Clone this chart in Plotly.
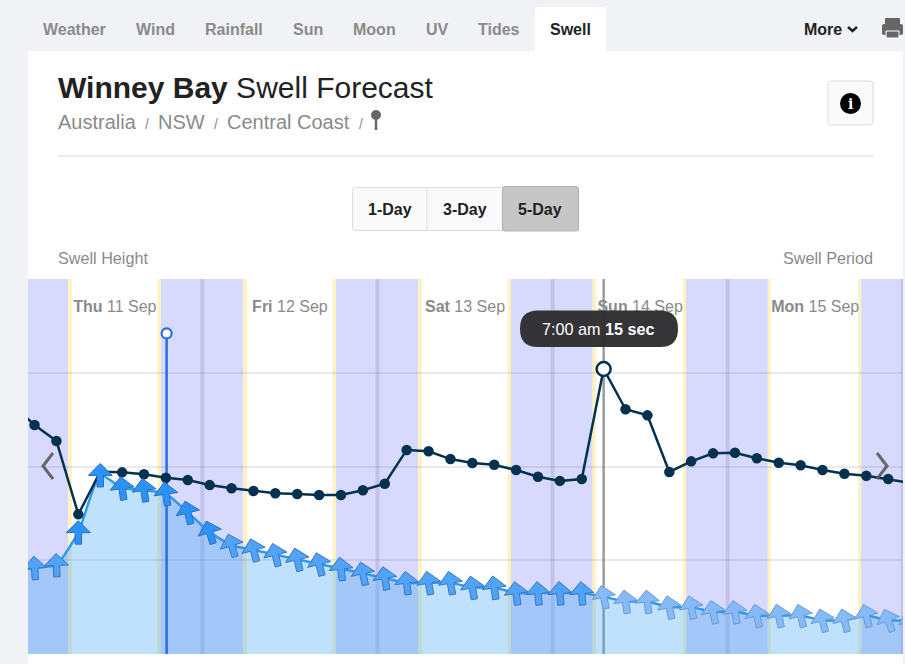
import math

import plotly.graph_objects as go

W, H = 905, 664

# hours counted from Thu 11 Sep 00:00
hours = list(range(-2, 122, 3))
swell_height = [
    0.87, 0.92, 0.95, 1.30, 1.91, 1.77, 1.75, 1.71, 1.51, 1.30, 1.16, 1.11, 1.06, 1.01,
    0.96, 0.91, 0.86, 0.81, 0.76, 0.76, 0.76, 0.71, 0.71, 0.65, 0.65, 0.65, 0.65, 0.61,
    0.56, 0.56, 0.50, 0.50, 0.45, 0.45, 0.41, 0.41, 0.41, 0.36, 0.36, 0.41, 0.36, 0.36,
]
swell_period = [
    13.1, 12.05, 11.21, 7.35, 9.59, 9.56, 9.46, 9.28, 9.16, 8.89, 8.72, 8.58, 8.46, 8.42,
    8.37, 8.37, 8.62, 8.96, 10.74, 10.67, 10.26, 10.05, 9.96, 9.68, 9.33, 9.11, 9.21, 15.0,
    12.88, 12.56, 9.58, 10.14, 10.56, 10.59, 10.3, 10.07, 9.93, 9.68, 9.49, 9.38, 9.21, 9.0,
]
# arrow tilt in degrees, negative leans left
swell_dir = [
    -5, -4, -2, 0, 0, -8, -8, -8, -14, -17, -17, -15, -14, -13,
    -14, -7, -12, -10, -7, -10, -10, -10, -8, -8, -5, -5, -5, -12,
    -8, -6, -12, -12, -12, -10, -12, -12, -14, -14, -14, -14, -20, -20,
]

first_light = [5.6, 29.6, 53.6, 77.5, 101.5]
sunrise = [6.1, 30.1, 54.05, 77.95, 101.9]
sunset = [17.85, 41.85, 65.85, 89.9, 113.9]
last_light = [18.3, 42.3, 66.3, 90.3, 114.3]
midnights = [24, 48, 72, 96, 120]

day_names = ["Thu", "Fri", "Sat", "Sun", "Mon"]
day_dates = ["11 Sep", "12 Sep", "13 Sep", "14 Sep", "15 Sep"]
day_noons = [12, 36, 60, 84, 108]

now_hour = 19.1
cursor_hour = 79
nav_labels = ["Weather", "Wind", "Rainfall", "Sun", "Moon", "UV", "Tides"]
nav_lefts = [43, 136, 205, 293, 353, 426, 478]

PAGE = "#f0f2f6"
NIGHT = "#d7d9fd"
TWILIGHT = "#fff2bf"
GREY_TEXT = "#8a8a8a"
DARK_TEXT = "#222222"
NAVY = "#03314f"
FONT = "Liberation Sans"

fig = go.Figure()


def rounded(x0, y0, x1, y1, r):
    """Rounded box path in page pixels (y down), anchored top left of the figure."""
    y0, y1 = -y0, -y1
    return (
        f"M{x0 + r},{y0} L{x1 - r},{y0} Q{x1},{y0} {x1},{y0 - r} "
        f"L{x1},{y1 + r} Q{x1},{y1} {x1 - r},{y1} L{x0 + r},{y1} "
        f"Q{x0},{y1} {x0},{y1 + r} L{x0},{y0 - r} Q{x0},{y0} {x0 + r},{y0} Z"
    )


def page_shape(path, fill=None, line=None, width=0, layer="above"):
    fig.add_shape(
        type="path", path=path, xref="paper", yref="paper", xsizemode="pixel",
        ysizemode="pixel", xanchor=0, yanchor=1, layer=layer,
        fillcolor=fill or "rgba(0,0,0,0)",
        line={"color": line or "rgba(0,0,0,0)", "width": width},
    )


def polyline(points, close=False):
    txt = "M" + " L".join(f"{x},{-y}" for x, y in points)
    return txt + (" Z" if close else "")


def text(x, y, s, size=16, color=DARK_TEXT, anchor="left", family=FONT):
    fig.add_annotation(
        x=x / W, y=1 - y / H, xref="paper", yref="paper", text=s, showarrow=False,
        xanchor=anchor, yanchor="middle", borderpad=0, borderwidth=0,
        font={"size": size, "color": color, "family": family},
    )


def band(x0, x1, color):
    fig.add_shape(
        type="rect", x0=x0, x1=x1, y0=0, y1=1, xref="x", yref="y domain",
        fillcolor=color, line_width=0, layer="below",
    )


def arrow_path(angle):
    a = math.radians(angle)
    outline = [(0, 11.5), (12, -0.5), (3.2, -0.5), (3.2, -12), (-3.2, -12), (-3.2, -0.5), (-12, -0.5)]
    pts = [
        (x * math.cos(a) + y * math.sin(a), -x * math.sin(a) + y * math.cos(a))
        for x, y in outline
    ]
    return "M" + " L".join(f"{x:.2f},{y:.2f}" for x, y in pts) + " Z"


def arrow_colors(hour, value):
    if hour >= cursor_hour:
        return "#84bbf6", "#6d9ad6"
    if value >= 1.25:
        return "#2b93f8", "#2a6fc0"
    return "#50a3f6", "#3b78c0"


# page furniture
page_shape(polyline([(28, 51), (903, 51), (903, 664), (28, 664)], True), fill="#ffffff", layer="below")
page_shape(
    "M535,-51 L535,-11 Q535,-7 539,-7 L602,-7 Q606,-7 606,-11 L606,-51 Z",
    fill="#ffffff", layer="below",
)
for label, left in zip(nav_labels, nav_lefts):
    text(left, 29.7, f"<b>{label}</b>", 16, GREY_TEXT)
text(550, 29.7, "<b>Swell</b>", 16, DARK_TEXT)
text(804, 29.7, "<b>More</b>", 16, DARK_TEXT)
page_shape(polyline([(848, 27), (852.5, 31), (857, 27)]), line=DARK_TEXT, width=2.5)
page_shape(rounded(885, 18, 900, 26, 1), fill="#666666")
page_shape(rounded(882, 24, 903, 35, 2), fill="#666666")
page_shape(polyline([(886, 31), (899, 31), (899, 38), (886, 38)], True), fill="#666666", line="#ffffff", width=1)

text(58, 87.8, "<b>Winney Bay</b> Swell Forecast", 30, DARK_TEXT)
text(58, 121.8, "Australia", 20, GREY_TEXT)
text(146.5, 124, "/", 14, GREY_TEXT, "center")
text(158, 121.8, "NSW", 20, GREY_TEXT)
text(216, 124, "/", 14, GREY_TEXT, "center")
text(227, 121.8, "Central Coast", 20, GREY_TEXT)
text(361, 124, "/", 14, GREY_TEXT, "center")
page_shape(polyline([(376, 116), (376, 130)]), line="#666666", width=2.5)
fig.add_shape(
    type="circle", xref="paper", yref="paper", xsizemode="pixel", ysizemode="pixel",
    xanchor=0, yanchor=1, x0=371, x1=381, y0=-120, y1=-110, fillcolor="#666666", line_width=0,
)
page_shape(polyline([(58, 156), (873, 156)]), line="#e4e4e4", width=1.3)

page_shape(rounded(828, 81, 873, 125, 3), fill="#fafafa", line="#dddddd", width=1)
fig.add_shape(
    type="circle", xref="paper", yref="paper", xsizemode="pixel", ysizemode="pixel",
    xanchor=0, yanchor=1, x0=840, x1=861, y0=-114, y1=-93, fillcolor="#000000", line_width=0,
)
text(850.5, 103.7, "<b>i</b>", 14, "#ffffff", "center", "DejaVu Serif")

page_shape(rounded(352.5, 187.5, 430, 230.5, 3), fill="#fafafa", line="#dddddd", width=1)
page_shape(polyline([(427, 187.5), (503, 187.5), (503, 230.5), (427, 230.5)], True), fill="#fafafa", line="#dddddd", width=1)
page_shape(rounded(502.5, 186.5, 578.5, 231, 3), fill="#c6c6c6", line="#b4b4b4", width=1.2)
text(389.5, 209.7, "<b>1-Day</b>", 16, DARK_TEXT, "center")
text(465, 209.7, "<b>3-Day</b>", 16, DARK_TEXT, "center")
text(540, 209.7, "<b>5-Day</b>", 16, DARK_TEXT, "center")
text(58, 257.8, "Swell Height", 16.2, GREY_TEXT)
text(873, 257.8, "Swell Period", 16.2, GREY_TEXT, "right")

# day and night bands
band(0, first_light[0], NIGHT)
for i in range(len(sunrise)):
    band(first_light[i], sunrise[i], TWILIGHT)
    band(sunset[i], last_light[i], TWILIGHT)
    end = first_light[i + 1] if i + 1 < len(first_light) else hours[-1]
    band(last_light[i], end, NIGHT)
for m in midnights:
    fig.add_shape(
        type="line", x0=m, x1=m, y0=0, y1=1, xref="x", yref="y domain", layer="below",
        line={"color": "rgba(110,110,150,0.2)", "width": 4},
    )

# selected time cursor
fig.add_shape(
    type="line", x0=cursor_hour, x1=cursor_hour, y0=0, y1=1, xref="x", yref="y domain",
    layer="below", line={"color": "rgba(90,90,90,0.6)", "width": 2.5},
)

# swell height area
fig.add_trace(
    go.Scatter(
        x=hours, y=swell_height, mode="lines", fill="tozeroy",
        fillcolor="rgba(61,164,243,0.33)",
        line={"color": "#2e9bea", "width": 2.5, "shape": "spline", "smoothing": 0.5},
        hoverinfo="skip",
    )
)

# day labels sit under the tooltip, so they are a trace and not an annotation
fig.add_trace(
    go.Scatter(
        x=day_noons, y=[3.69] * len(day_noons), mode="text",
        text=[f"<b>{n}</b> {d}" for n, d in zip(day_names, day_dates)],
        textfont={"size": 16, "color": GREY_TEXT, "family": FONT},
        hoverinfo="skip",
    )
)

# now marker
fig.add_trace(
    go.Scatter(
        x=[now_hour, now_hour], y=[0, 3.42], mode="lines+markers",
        line={"color": "#2a6ee6", "width": 2.5},
        marker={"size": [0, 10], "color": "#ffffff", "opacity": 1, "line": {"color": "#2a6ee6", "width": 2.2}},
        hoverinfo="skip",
    )
)

# swell period line on the right hand axis
fig.add_trace(
    go.Scatter(
        x=hours, y=swell_period, yaxis="y2", mode="lines+markers",
        line={"color": NAVY, "width": 2.5},
        marker={
            "size": [14 if h == cursor_hour else 10.5 for h in hours],
            "color": ["#ffffff" if h == cursor_hour else NAVY for h in hours],
            "opacity": 1,
            "line": {"color": NAVY, "width": [2.5 if h == cursor_hour else 0 for h in hours]},
        },
        hoverinfo="skip",
    )
)

# direction arrows
for h, v, d in zip(hours, swell_height, swell_dir):
    arrow_fill, arrow_edge = arrow_colors(h, v)
    fig.add_shape(
        type="path", path=arrow_path(d), xref="x", yref="y", xsizemode="pixel",
        ysizemode="pixel", xanchor=h, yanchor=v, layer="above",
        fillcolor=arrow_fill,
        line={"color": arrow_edge, "width": 1},
    )

# tooltip
page_shape(rounded(520, 310.5, 678, 347, 18), fill="rgba(46,46,50,0.97)")
text(598.5, 329.2, f"7:00 am <b>{swell_period[hours.index(cursor_hour)]:.0f} sec</b>", 16.2, "#ffffff", "center")

# scroll chevrons
page_shape(polyline([(53, 453), (43, 466), (53, 479)]), line="rgba(90,90,90,0.9)", width=3)
page_shape(polyline([(877, 453), (887, 466), (877, 479)]), line="rgba(90,90,90,0.9)", width=3)

fig.update_layout(
    width=W,
    height=H,
    margin={"l": 0, "r": 0, "t": 0, "b": 0},
    paper_bgcolor=PAGE,
    plot_bgcolor="#ffffff",
    showlegend=False,
    font={"family": FONT},
    hovermode=False,
    xaxis={
        "domain": [28 / W, 903 / W], "range": [0.1, 120.03], "showgrid": False,
        "zeroline": False, "showticklabels": False, "ticks": "", "fixedrange": True,
    },
    yaxis={
        "domain": [1 - 654 / H, 1 - 279 / H], "range": [0, 4], "tickvals": [0, 1, 2, 3, 4],
        "gridcolor": "rgba(90,90,110,0.13)", "gridwidth": 2, "zeroline": False,
        "showticklabels": False, "ticks": "", "fixedrange": True,
    },
    yaxis2={
        "domain": [1 - 654 / H, 1 - 279 / H], "range": [0, 375 / 19], "overlaying": "y",
        "side": "right", "showgrid": False, "zeroline": False, "showticklabels": False,
        "ticks": "", "fixedrange": True,
    },
)

fig.write_html(
    "out.html",
    config={"displayModeBar": False},
    post_script="document.body.style.margin='0';document.body.style.overflow='hidden';",
)
